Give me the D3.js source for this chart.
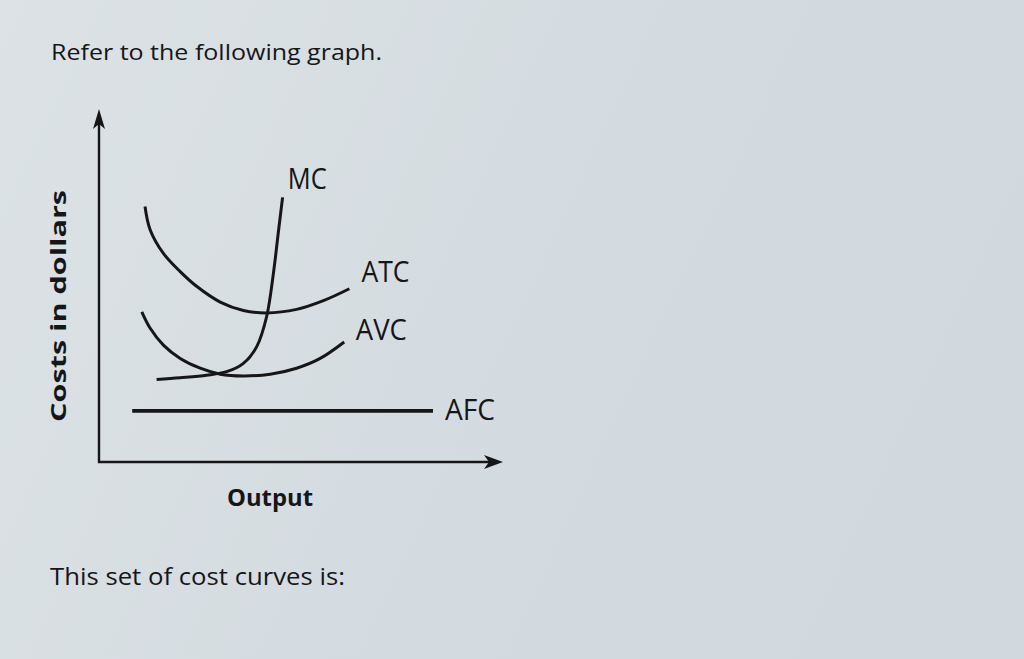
<!DOCTYPE html>
<html>
<head>
<meta charset="utf-8">
<script src="https://cdnjs.cloudflare.com/ajax/libs/d3/7.8.5/d3.min.js"></script>
<style>
  html, body { margin: 0; padding: 0; background: #d6dde1; }
  svg { display: block; }
</style>
</head>
<body>
<script>
// cost curves (output units, dollars)
var atcX = [1.15, 1.28, 1.61, 2.03, 2.44, 3.03, 3.61, 4.19, 4.94, 5.61, 6.26],
	atcY = [7.30, 6.63, 5.96, 5.44, 5.02, 4.57, 4.33, 4.26, 4.36, 4.61, 4.95];
var avcX = [1.07, 1.28, 1.61, 2.03, 2.53, 3.03, 3.61, 4.28, 4.94, 5.53, 6.13],
	avcY = [4.29, 3.82, 3.34, 2.96, 2.68, 2.51, 2.46, 2.51, 2.68, 2.96, 3.43];
var mcX = [1.44, 2.03, 2.69, 3.19, 3.61, 3.94, 4.19, 4.36, 4.48, 4.59],
	mcY = [2.36, 2.41, 2.48, 2.58, 2.82, 3.29, 4.15, 5.39, 6.53, 7.56];
var afcX = [0.83, 8.35],
	afcY = [1.46, 1.46];

var curveNames = ["MC", "ATC", "AVC", "AFC"];
var labelX = [4.72, 6.56, 6.42, 8.65],
	labelY = [7.8, 5.15, 3.5, 1.2];

var w = 1024,
	h = 659,
	ink = "#161618",
	font = "'Open Sans', 'Noto Sans', sans-serif";

var x = d3.scaleLinear().domain([0, 10]).range([99, 499]),
	y = d3.scaleLinear().domain([0, 10]).range([462, 112]);

var svg = d3.select("body")
	.append("svg")
	.attr("width", w)
	.attr("height", h);

// photo-ish background, lighter on the left
var grad = svg.append("defs").append("linearGradient")
	.attr("id", "bg")
	.attr("x1", "0").attr("y1", "0")
	.attr("x2", "1").attr("y2", "0.3");
grad.append("stop").attr("offset", "0").attr("stop-color", "#dce2e5");
grad.append("stop").attr("offset", "0.55").attr("stop-color", "#d5dce1");
grad.append("stop").attr("offset", "1").attr("stop-color", "#d1d9de");

svg.append("rect")
	.attr("width", w)
	.attr("height", h)
	.attr("fill", "url(#bg)");

svg.append("text")
	.attr("x", 51)
	.attr("y", 60)
	.attr("font-family", font)
	.attr("font-size", 22)
	.attr("fill", ink)
	.attr("textLength", 331)
	.attr("lengthAdjust", "spacingAndGlyphs")
	.text("Refer to the following graph.");

svg.append("text")
	.attr("x", 50)
	.attr("y", 585)
	.attr("font-family", font)
	.attr("font-size", 24)
	.attr("fill", ink)
	.attr("textLength", 295)
	.attr("lengthAdjust", "spacingAndGlyphs")
	.text("This set of cost curves is:");

// axes
var axisG = svg.append("g")
	.attr("stroke", ink)
	.attr("stroke-width", 2.4)
	.attr("fill", "none");

axisG.append("path")
	.attr("d", "M" + x(0) + "," + (y(10) + 6) + "V" + y(0) + "H" + (x(10) - 2));

// arrowheads
svg.append("path")
	.attr("fill", ink)
	.attr("d", "M" + x(0) + "," + (y(10) - 3) +
		"L" + (x(0) + 6) + "," + (y(10) + 17) +
		"L" + x(0) + "," + (y(10) + 12) +
		"L" + (x(0) - 6) + "," + (y(10) + 17) + "Z");

svg.append("path")
	.attr("fill", ink)
	.attr("d", "M" + (x(10) + 4) + "," + y(0) +
		"L" + (x(10) - 15) + "," + (y(0) - 7) +
		"L" + (x(10) - 10) + "," + y(0) +
		"L" + (x(10) - 15) + "," + (y(0) + 7) + "Z");

svg.append("text")
	.attr("x", 270)
	.attr("y", 506)
	.attr("text-anchor", "middle")
	.attr("font-family", font)
	.attr("font-weight", "bold")
	.attr("font-size", 24)
	.attr("fill", ink)
	.attr("textLength", 86)
	.attr("lengthAdjust", "spacingAndGlyphs")
	.text("Output");

svg.append("text")
	.attr("transform", "translate(66,306) rotate(-90)")
	.attr("text-anchor", "middle")
	.attr("font-family", font)
	.attr("font-weight", "bold")
	.attr("font-size", 21)
	.attr("fill", ink)
	.attr("textLength", 232)
	.attr("lengthAdjust", "spacingAndGlyphs")
	.text("Costs in dollars");

// curves
function pts(xs, ys) {
	return xs.map((d, i) => [d, ys[i]]);
}

var line = d3.line()
	.x((d) => { return x(d[0]) })
	.y((d) => { return y(d[1]) })
	.curve(d3.curveCatmullRom.alpha(0.5));

var series = [
	{ name: "MC", data: pts(mcX, mcY), sw: 3 },
	{ name: "ATC", data: pts(atcX, atcY), sw: 3 },
	{ name: "AVC", data: pts(avcX, avcY), sw: 3 },
	{ name: "AFC", data: pts(afcX, afcY), sw: 3.8 }
];

svg.append("g")
	.selectAll("path")
	.data(series)
	.enter()
	.append("path")
	.attr("d", (d) => { return line(d.data) })
	.attr("fill", "none")
	.attr("stroke", ink)
	.attr("stroke-width", (d) => { return d.sw })
	.attr("stroke-linecap", "butt");

var labelW = [39, 48, 51, 50];

svg.append("g")
	.selectAll("text")
	.data(curveNames)
	.enter()
	.append("text")
	.attr("x", (d, i) => { return x(labelX[i]) })
	.attr("y", (d, i) => { return y(labelY[i]) })
	.attr("font-family", font)
	.attr("font-size", 29)
	.attr("fill", ink)
	.attr("textLength", (d, i) => { return labelW[i] })
	.attr("lengthAdjust", "spacingAndGlyphs")
	.text((d) => { return d });
</script>
</body>
</html>
